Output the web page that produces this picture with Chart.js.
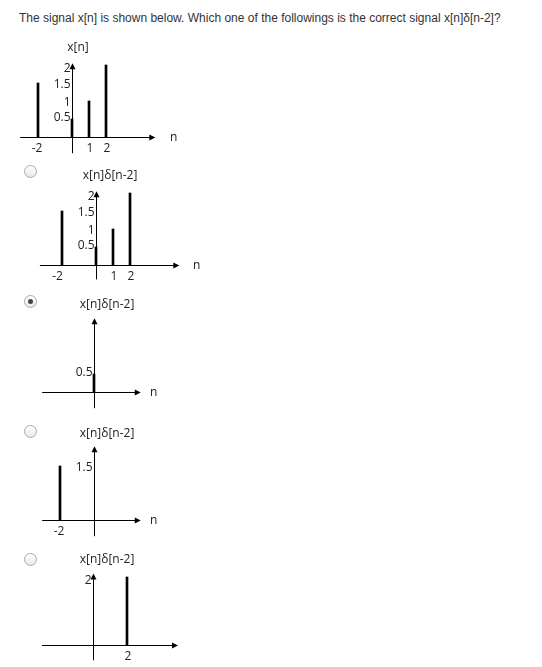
<!DOCTYPE html>
<html><head><meta charset="utf-8">
<script src="https://cdn.jsdelivr.net/npm/chart.js@4/dist/chart.umd.min.js"></script>
<style>
body{margin:0;width:542px;height:667px;position:relative;background:#fff;font-family:"Liberation Sans",Arial,sans-serif;overflow:hidden}
#q{position:absolute;left:19px;top:11px;font-size:12px;color:#333}
.r{position:absolute;left:24px;width:11px;height:11px;border-radius:50%;border:1px solid #aaa;background:linear-gradient(#fff,#e8e8e8)}
.r.on::after{content:"";position:absolute;left:3px;top:3px;width:5px;height:5px;border-radius:50%;background:#444}
canvas{position:absolute;left:0}
</style></head><body>
<div id="q">The signal x[n] is shown below. Which one of the followings is the correct signal x[n]δ[n-2]?</div>
<div class="r" style="top:165px"></div>
<div class="r on" style="top:295px"></div>
<div class="r" style="top:425px"></div>
<div class="r" style="top:553px"></div>
<script>
// data
const n1 = [-2, 0, 1, 2];
const x1 = [1.5, 0.5, 1, 2];
const n2 = [-2, 0, 1, 2];
const x2 = [1.5, 0.5, 1, 2];
const n3 = [0];
const x3 = [0.5];
const n4 = [-2];
const x4 = [1.5];
const n5 = [2];
const x5 = [2];
const yTicks1 = ["2", "1.5", "1", "0.5"];
const xTicks1 = ["-2", "1", "2"];
const titleMain = "x[n]";
const titleProd = "x[n]δ[n-2]";

const W = 542, H = 125, TOPOFF = 105;
const FONT = '12px "Open Sans", sans-serif';

const charts = [
  {n:n1, v:x1, ox:72, oy:137, ux:17, uy:36, xa:[-3.05,4.9], ya:[-0.45,2.05], title:titleMain, tx:78, ty:48,
   ylab:[[yTicks1[0],1.9],[yTicks1[1],1.47],[yTicks1[2],0.97],[yTicks1[3],0.53]], xlab:[[xTicks1[0],-2],[xTicks1[1],1],[xTicks1[2],2]], nx:170},
  {n:n2, v:x2, ox:96, oy:265, ux:17, uy:36, xa:[-3.3,4.9], ya:[-0.4,2.05], title:titleProd, tx:110, ty:176,
   ylab:[[yTicks1[0],1.9],[yTicks1[1],1.47],[yTicks1[2],0.97],[yTicks1[3],0.53]], xlab:[[xTicks1[0],-2.2],[xTicks1[1],1],[xTicks1[2],2]], nx:193},
  {n:n3, v:x3, ox:94, oy:392, ux:17, uy:36, xa:[-3.05,2.75], ya:[-0.45,2.05], title:titleProd, tx:107, ty:305,
   ylab:[["0.5",0.55]], xlab:[], nx:150},
  {n:n4, v:x4, ox:94, oy:520, ux:17, uy:36, xa:[-3.05,2.75], ya:[-0.45,2.05], title:titleProd, tx:107, ty:434,
   ylab:[["1.5",1.47]], xlab:[["-2",-2]], nx:150},
  {n:n5, v:x5, ox:93, oy:645, ux:17, uy:34, xa:[-3.0,5.0], ya:[-0.45,2.1], title:titleProd, tx:107, ty:560,
   ylab:[["2",1.9]], xlab:[["2",2]], nx:0}
];

const axesPlugin = {
  id:'axes',
  afterDatasetsDraw(chart, args, o){
    const c = chart.ctx, xs = chart.scales.x, ys = chart.scales.y, cfg = o.cfg;
    const X = v=>xs.getPixelForValue(v), Y = v=>ys.getPixelForValue(v);
    c.save();
    c.strokeStyle='#000'; c.fillStyle='#000'; c.lineWidth=1;
    const x0=Math.round(X(0))+0.5, y0=Math.round(Y(0))+0.5;
    c.beginPath(); c.moveTo(X(cfg.xa[0]),y0); c.lineTo(X(cfg.xa[1])-4,y0); c.stroke();
    c.beginPath(); c.moveTo(X(cfg.xa[1]),y0); c.lineTo(X(cfg.xa[1])-6,y0-3); c.lineTo(X(cfg.xa[1])-6,y0+3); c.fill();
    c.beginPath(); c.moveTo(x0,Y(cfg.ya[0])); c.lineTo(x0,Y(cfg.ya[1])+4); c.stroke();
    c.beginPath(); c.moveTo(x0,Y(cfg.ya[1])); c.lineTo(x0-3,Y(cfg.ya[1])+6); c.lineTo(x0+3,Y(cfg.ya[1])+6); c.fill();
    c.fillStyle='#222'; c.font=FONT; c.textBaseline='middle';
    c.textAlign='right';
    cfg.ylab.forEach(([t,v])=>c.fillText(t, x0-2, Y(v)));
    c.textAlign='center';
    cfg.xlab.forEach(([t,v])=>c.fillText(t, X(v)+(v<0?-1:1), y0+11));
    c.fillText(cfg.title, cfg.tx, cfg.ty-(cfg.oy-TOPOFF));
    if(cfg.nx){ c.textAlign='left'; c.fillText('n', cfg.nx, y0); }
    c.restore();
  }
};

charts.forEach(cfg=>{
  const cv=document.createElement('canvas');
  cv.width=W; cv.height=H; cv.style.top=(cfg.oy-TOPOFF)+'px';
  cv.style.width=W+'px'; cv.style.height=H+'px';
  document.body.appendChild(cv);
  new Chart(cv,{
    type:'bar',
    data:{datasets:[{data:cfg.n.map((k,i)=>({x:k,y:cfg.v[i]})), backgroundColor:'#000', barThickness:2}]},
    options:{
      responsive:false, animation:false,
      layout:{padding:0},
      plugins:{legend:{display:false}, tooltip:{enabled:false}, axes:{cfg}},
      scales:{
        x:{type:'linear', display:false, min:-cfg.ox/cfg.ux, max:(W-cfg.ox)/cfg.ux, offset:false},
        y:{type:'linear', display:false, min:-(H-TOPOFF)/cfg.uy, max:TOPOFF/cfg.uy}
      }
    },
    plugins:[axesPlugin]
  });
});
</script>
</body></html>
